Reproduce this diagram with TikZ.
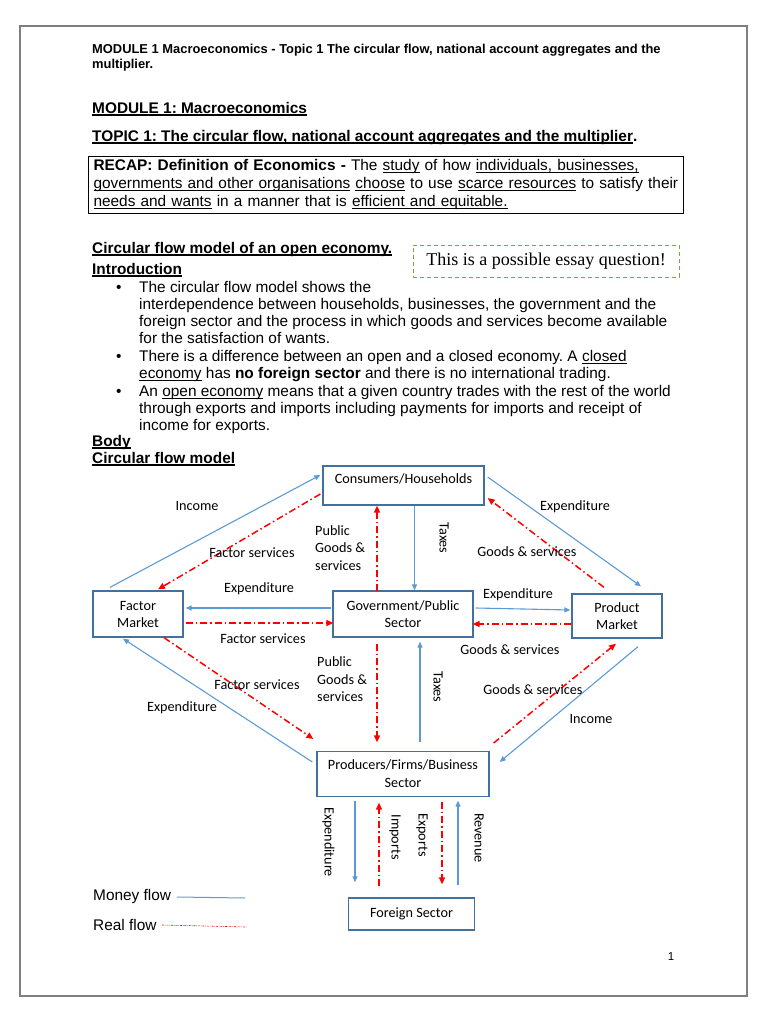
\documentclass[tikz,border=0pt]{standalone}
\usepackage{fontspec}
\setmainfont{Liberation Sans}
\newfontfamily\calibri{Carlito}
\newfontfamily\timesfont{Liberation Serif}
\usetikzlibrary{arrows.meta, positioning, calc}
\definecolor{boxBlue}{HTML}{41719C}
\definecolor{moneyBlue}{HTML}{5B9BD5}
\definecolor{realRed}{HTML}{FF0000}
\definecolor{essayGreen}{HTML}{70AD47}
\definecolor{pageGrey}{HTML}{7F7F7F}
\newsavebox{\ulbox}
\newcommand{\uln}[2][0.9pt]{\leavevmode\sbox{\ulbox}{#2}\rlap{\rule[-2.4pt]{\wd\ulbox}{#1}}\usebox{\ulbox}}
\frenchspacing

\begin{document}
\begin{tikzpicture}[
    x=1pt, y=-1pt,
    txt/.style={inner sep=0pt, anchor=north west, align=left,
      font=\fontsize{15.4}{17}\selectfont},
    head/.style={txt, font=\bfseries\fontsize{15.4}{17}\selectfont},
    sector/.style={draw=boxBlue, line width=1.3pt, align=center, inner sep=2pt,
      font=\calibri\fontsize{14.2}{17}\selectfont},
    money/.style={-{Triangle[length=6pt,width=5pt]}, moneyBlue, line width=1.1pt},
    real/.style={-{Triangle[length=7pt,width=6pt]}, realRed, line width=1.5pt,
      dash pattern=on 7pt off 3pt on 1.5pt off 3pt},
    lblbase/.style={inner sep=0pt, font=\calibri\fontsize{14.2}{17.5}\selectfont},
    lbl/.style={lblbase, text height=9.5pt, text depth=2.5pt},
    vlbl/.style={lbl, rotate=-90},
  ]
  \useasboundingbox (0,0) rectangle (768,1024);
  \draw[pageGrey, line width=1.8pt] (20,26) rectangle (747,996);

  % page heading
  \node[txt, font=\bfseries\fontsize{12.9}{15}\selectfont] (hdr) at (92,44)
    {MODULE 1 Macroeconomics - Topic 1 The circular flow, national account aggregates and the\\multiplier.};
  \node[head] (mod) at (92,102) {\uln[1.4pt]{MODULE 1: Macroeconomics}};
  \node[head] (topic) at (92,130)
    {\uln[1.4pt]{TOPIC 1: The circular flow, national account aggregates and the multiplier}.};

  \node[txt, draw, line width=1pt, anchor=north west, text width=585pt,
    inner xsep=5pt, inner ysep=3pt, minimum height=57pt,
    font=\fontsize{15.4}{18}\selectfont] (recap) at (88,156) {
    \textbf{RECAP: Definition of Economics -} The \uln{study} of how \uln{individuals, businesses,}\\
    \uln{governments and other organisations} \uln{choose} to use \uln{scarce resources} to satisfy their\\
    \uln{needs and wants} in a manner that is \uln{efficient and equitable.}
  };

  % introduction
  \node[head, font=\bfseries\fontsize{15.4}{21}\selectfont] (intro) at (92,242)
    {\uln[1.4pt]{Circular flow model of an open economy.}\\\uln[1.4pt]{Introduction}};
  \node[draw=essayGreen, line width=1pt, dash pattern=on 4pt off 3pt,
    minimum width=266pt, minimum height=32pt,
    font=\timesfont\fontsize{18}{20}\selectfont] (essay) at (546,261)
    {This is a possible essay question!};

  \node[txt, text height=11.2pt] (bul1) at (116,281) {\textbullet};
  \node[txt] (pt1) at (139,281) {The circular flow model shows the\\
    interdependence between households, businesses, the government and the\\
    foreign sector and the process in which goods and services become available\\
    for the satisfaction of wants.};
  \node[txt, text height=11.2pt] (bul2) at (116,350) {\textbullet};
  \node[txt] (pt2) at (139,350) {There is a difference between an open and a closed economy. A \uln{closed}\\
    \uln{economy} has \textbf{no foreign sector} and there is no international trading.};
  \node[txt, text height=11.2pt] (bul3) at (116,385) {\textbullet};
  \node[txt] (pt3) at (139,385) {An \uln{open economy} means that a given country trades with the rest of the world\\
    through exports and imports including payments for imports and receipt of\\
    income for exports.};
  \node[head] (body) at (92,435) {\uln[1.4pt]{Body}\\\uln[1.4pt]{Circular flow model}};

  % sectors
  \node[sector, minimum width=161pt, minimum height=39pt, text height=9.5pt, text depth=14.5pt]
    (cons) at (403.5,485.5) {Consumers/Households};
  \node[sector, minimum width=90pt, minimum height=46pt] (fac) at (138,614) {Factor\\Market};
  \node[sector, minimum width=140pt, minimum height=46pt] (gov) at (403,614) {Government/Public\\Sector};
  \node[sector, minimum width=90pt, minimum height=44pt] (mkt) at (617,616) {Product\\Market};
  \node[sector, minimum width=172pt, minimum height=45pt, font=\calibri\fontsize{14.2}{18}\selectfont]
    (firms) at (403,774) {Producers/Firms/Business\\Sector};
  \node[sector, minimum width=126pt, minimum height=32pt] (frgn) at (411.5,914) {Foreign Sector};

  % money flows
  \draw[money] ($(fac.north)+(-28,-3)$) -- ($(cons.west)+(-2,-10.5)$);
  \draw[money] ($(cons.east)+(3,-8.5)$) -- ($(mkt.north)+(24,-7)$);
  \draw[money] ($(cons.south)+(11,0)$) -- ($(gov.north)+(11.5,0)$);
  \draw[money] ($(gov.west)+(-1,-6)$) -- ($(fac.east)+(2,-6)$);
  \draw[money] ($(gov.east)+(2,-6)$) -- ($(mkt.west)+(-1,-6)$);
  \draw[money] ($(firms.north)+(17,-8.5)$) -- ($(gov.south)+(17,4)$);
  \draw[money] ($(firms.west)+(-4,-12)$) -- ($(fac.south)+(-15,1)$);
  \draw[money] ($(mkt.south)+(21,8)$) -- ($(firms.east)+(10,-12)$);
  \draw[money] ($(firms.south)+(-48,3.5)$) -- ($(frgn.north)+(-56.5,-15)$);
  \draw[money] ($(frgn.north)+(46.5,-12)$) -- ($(firms.south)+(55,3.5)$);

  % real flows
  \draw[real] ($(cons.west)+(-2,8.5)$) -- ($(fac.north)+(20,-1)$);
  \draw[real] ($(gov.north)+(-26,1)$) -- ($(cons.south)+(-26.5,0)$);
  \draw[real] ($(mkt.north)+(-13,-6)$) -- ($(cons.east)+(3,12.5)$);
  \draw[real] ($(fac.east)+(2,9)$) -- ($(gov.west)+(1,9)$);
  \draw[real] ($(mkt.west)+(0,8)$) -- ($(gov.east)+(-1,10)$);
  \draw[real] ($(gov.south)+(-26,6)$) -- ($(firms.north)+(-26,-8.5)$);
  \draw[real] ($(fac.south)+(26,0)$) -- ($(firms.west)+(-3,-35)$);
  \draw[real] ($(firms.east)+(4,-31)$) -- ($(mkt.south)+(-1,5)$);
  \draw[real] ($(frgn.north)+(-32.5,-11)$) -- ($(firms.south)+(-24,5.5)$);
  \draw[real] ($(firms.south)+(39,4.5)$) -- ($(frgn.north)+(30.5,-13)$);

  % flow labels
  \node[lbl] (lInc1) at (197,507) {Income};
  \node[lbl] (lFs1) at (252,554) {Factor services};
  \node[lblbase, anchor=west, align=left] (lPub1) at (315,548) {Public\\Goods \&\\services};
  \node[vlbl] (lTax1) at (443,538) {Taxes};
  \node[lbl] (lExp1) at (575,507) {Expenditure};
  \node[lbl] (lGs1) at (527,553) {Goods \& services};
  \node[lbl] (lExp2) at (259,589) {Expenditure};
  \node[lbl] (lExp3) at (518,595) {Expenditure};
  \node[lbl] (lFs2) at (263,640) {Factor services};
  \node[lbl] (lGs2) at (510,651) {Goods \& services};
  \node[lblbase, anchor=west, align=left] (lPub2) at (317,679.5) {Public\\Goods \&\\services};
  \node[vlbl] (lTax2) at (437,687) {Taxes};
  \node[lbl] (lFs3) at (257,686) {Factor services};
  \node[lbl] (lGs3) at (533,691) {Goods \& services};
  \node[lbl] (lExp4) at (182,708) {Expenditure};
  \node[lbl] (lInc2) at (591,720) {Income};
  \node[vlbl] (lExp5) at (328,842) {Expenditure};
  \node[vlbl] (lImp) at (395,837) {Imports};
  \node[vlbl] (lExpt) at (422,835) {Exports};
  \node[vlbl] (lRev) at (478,838) {Revenue};

  % legend
  \node[txt, anchor=west] (lgMoney) at (93,897) {Money flow};
  \coordinate (lgMoneyEnd) at (245,898);
  \draw[moneyBlue, line width=1pt] (lgMoney.east -| 177,0) -- (lgMoneyEnd);
  \node[txt, anchor=west] (lgReal) at (93,925) {Real flow};
  \coordinate (lgRealEnd) at (247,927);
  \draw[realRed, line width=0.6pt, dash pattern=on 2pt off 1pt on 0.5pt off 1pt]
    (lgReal.east -| 162,0) -- (lgRealEnd);

  \node[txt, anchor=center, font=\fontsize{11.5}{13}\selectfont] (pgno) at (671,957) {1};
\end{tikzpicture}
\end{document}
